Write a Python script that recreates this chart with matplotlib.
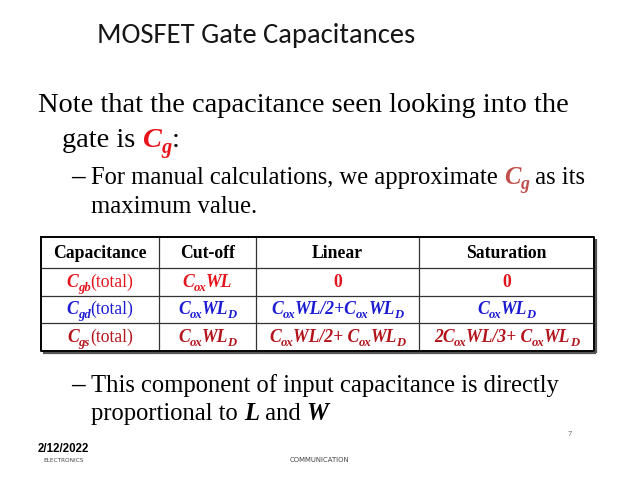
import re
import matplotlib
matplotlib.use('Agg')
import matplotlib.pyplot as plt

# ---------------- content ----------------
title = "MOSFET Gate Capacitances"
body_line1 = "Note that the capacitance seen looking into the"
body_line2 = "gate is "
bullet1_a = "For manual calculations, we approximate "
bullet1_b = " as its"
bullet1_c = "maximum value."
bullet2_a = "This component of input capacitance is directly"
bullet2_b = "proportional to "
columns = ["Capacitance", "Cut-off", "Linear", "Saturation"]
row_caps = ["C_{gb}", "C_{gd}", "C_{gs}"]
cutoff_vals = ["C_{ox}WL", "C_{ox}WL_{D}", "C_{ox}WL_{D}"]
linear_vals = ["0", "C_{ox}WL/2+C_{ox}WL_{D}", "C_{ox}WL/2+ C_{ox}WL_{D}"]
saturation_vals = ["0", "C_{ox}WL_{D}", "2C_{ox}WL/3+ C_{ox}WL_{D}"]
row_colors = ["#e3141c", "#1b1bd2", "#b3141c"]
footer_date = "2/12/2022"
footer_left = "ELECTRONICS"
footer_mid = "COMMUNICATION"
page_no = "7"

W, H = 638, 478
fig = plt.figure(figsize=(6.38, 4.78), dpi=100)
ax = fig.add_axes([0, 0, 1, 1])
ax.set_xlim(0, W)
ax.set_ylim(H, 0)
ax.axis('off')
renderer = fig.canvas.get_renderer()

SERIF = 'Liberation Serif'
SANS = 'Carlito'


def width(text, **kw):
    t = ax.text(0, 0, text + '|', **kw)
    w1 = t.get_window_extent(renderer).width
    t.remove()
    t = ax.text(0, 0, '|', **kw)
    w2 = t.get_window_extent(renderer).width
    t.remove()
    return w1 - w2


def props(s, size, family, color):
    fs = size * (0.72 if s.get('sub') else 1.0)
    return dict(fontsize=fs, family=family,
                fontweight='bold' if s.get('b') else 'normal',
                fontstyle='italic' if s.get('i') else 'normal',
                color=s.get('c', color))


def rich(x, y, segs, size, family=SERIF, color='black', ha='left', kern=0.0):
    ps = [props(s, size, family, color) for _, s in segs]
    ws = [width(t, **p) for (t, _), p in zip(segs, ps)]
    ks = []
    for k, (t, s) in enumerate(segs):
        kk = 0.0
        if k > 0 and (s.get('sub') or segs[k - 1][1].get('sub')) and s.get('i'):
            kk = -kern
        ks.append(kk)
    total = sum(ws) + sum(ks)
    if ha == 'center':
        x -= total / 2
    for (t, s), p, w, kk in zip(segs, ps, ws, ks):
        x += kk
        dy = size * 1.389 * 0.2 if s.get('sub') else 0
        ax.text(x, y + dy, t, va='baseline', ha='left', **p)
        x += w
    return x


def parse(expr, style):
    segs = []
    for m in re.finditer(r'_\{([^}]*)\}|[^_]+', expr):
        if m.group(1) is not None:
            d = dict(style); d['sub'] = True
            segs.append((m.group(1), d))
        else:
            segs.append((m.group(0), dict(style)))
    return segs


def fit(text, target, base=20, **kw):
    return base * target / width(text, fontsize=base, **kw)


# ---------------- title ----------------
tsize = fit(title, 318, family=SANS)
ax.text(97, 43, title, family=SANS, fontsize=tsize,
        va='baseline', ha='left', color='#161616')

# ---------------- body ----------------
bsize = fit(body_line1, 529, family=SERIF)
ax.text(38, 112, body_line1, family=SERIF, fontsize=bsize, va='baseline')
rich(62, 147, [(body_line2, {}),
               ("C", {'b': 1, 'i': 1, 'c': '#e8141b'}),
               ("g", {'b': 1, 'i': 1, 'c': '#e8141b', 'sub': 1}),
               (":", {})], bsize)

ssize = fit(bullet2_a, 468, family=SERIF)
ax.text(71, 184, "\u2013", family=SERIF, fontweight='bold', fontsize=ssize * 1.1, va='baseline')
rich(91, 184, [(bullet1_a, {}),
               ("C", {'b': 1, 'i': 1, 'c': '#c0504d'}),
               ("g", {'b': 1, 'i': 1, 'c': '#c0504d', 'sub': 1}),
               (bullet1_b, {})], ssize)
ax.text(91, 213, bullet1_c, family=SERIF, fontsize=ssize, va='baseline')

ax.text(71, 392, "\u2013", family=SERIF, fontweight='bold', fontsize=ssize * 1.1, va='baseline')
ax.text(91, 392, bullet2_a, family=SERIF, fontsize=ssize, va='baseline')
rich(91, 420, [(bullet2_b, {}), ("L", {'b': 1, 'i': 1}), (" and ", {}),
               ("W", {'b': 1, 'i': 1})], ssize)

# ---------------- table ----------------
col_edges = [41, 159, 256, 419, 594]
row_edges = [237, 268, 296, 323, 351]
tabsize = fit("Capacitance", 93, family=SERIF, fontweight='bold')

# shadow
ax.plot([col_edges[-1] + 1.5, col_edges[-1] + 1.5], [row_edges[0] + 2, row_edges[-1] + 1.5],
        color='#555555', lw=1.6, solid_capstyle='butt')
ax.plot([col_edges[0] + 2, col_edges[-1] + 1.5], [row_edges[-1] + 1.5, row_edges[-1] + 1.5],
        color='#555555', lw=1.6, solid_capstyle='butt')
for xe in col_edges[1:-1]:
    ax.plot([xe, xe], [row_edges[0], row_edges[-1]], color='#333333', lw=0.9)
for ye in row_edges[1:-1]:
    ax.plot([col_edges[0], col_edges[-1]], [ye, ye], color='#333333', lw=0.9)
ax.plot([col_edges[0], col_edges[-1], col_edges[-1], col_edges[0], col_edges[0]],
        [row_edges[0], row_edges[0], row_edges[-1], row_edges[-1], row_edges[0]],
        color='black', lw=1.4)

centers = [(col_edges[i] + col_edges[i + 1]) / 2 for i in range(4)]
for j, c in enumerate(columns):
    ax.text(centers[j], row_edges[1] - 10, c, family=SERIF, fontweight='bold',
            fontsize=tabsize, ha='center', va='baseline', color='black')

bi = {'b': 1, 'i': 1}
for i in range(3):
    yb = row_edges[i + 2] - 9
    col = row_colors[i]
    segs0 = parse(row_caps[i], bi) + [("(total)", {})]
    rich(centers[0], yb, segs0, tabsize, color=col, ha='center', kern=0.5)
    for j, vals in enumerate([cutoff_vals, linear_vals, saturation_vals]):
        v = vals[i]
        st = {'b': 1} if v == "0" else bi
        rich(centers[j + 1], yb, parse(v, st), tabsize, color=col, ha='center', kern=0.6)

# ---------------- footer ----------------
ax.text(38, 452, footer_date, family='Liberation Sans', fontweight='bold',
        fontsize=8.3, va='baseline', color='black')
fs_l = fit(footer_left, 40, family='Liberation Sans Narrow')
ax.text(43, 462, footer_left, family='Liberation Sans Narrow', fontsize=fs_l,
        va='baseline', color='#444444')
fs_m = fit(footer_mid, 60, family='Liberation Sans Narrow')
ax.text(290, 462, footer_mid, family='Liberation Sans Narrow', fontsize=fs_m,
        va='baseline', color='#444444')
ax.text(568, 436, page_no, family=SANS, fontsize=6, va='baseline', color='#777777')

fig.savefig('out.png', dpi=100)
